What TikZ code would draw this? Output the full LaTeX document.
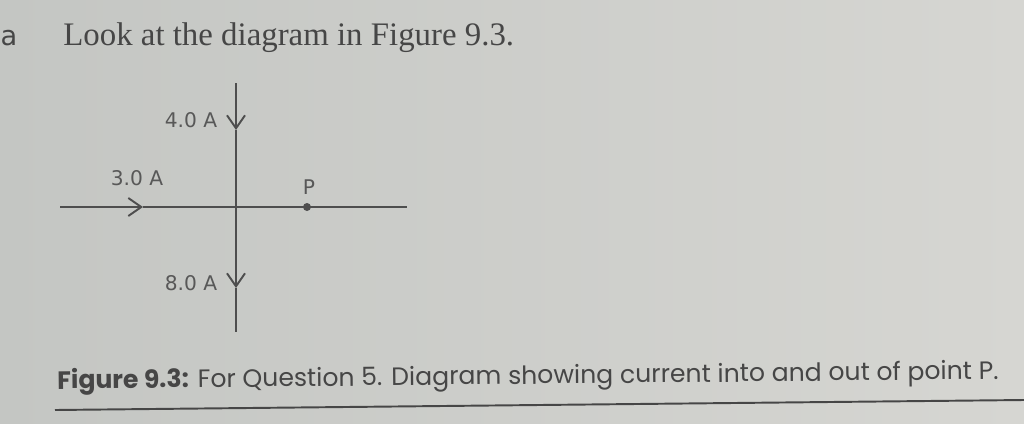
\documentclass[tikz,border=0pt]{standalone}
\usepackage{fontspec}
\setmainfont{Liberation Serif}
\setsansfont{DejaVu Sans}
\newfontfamily\capfont{Poppins}
\usetikzlibrary{arrows.meta}
\definecolor{paperl}{RGB}{196,198,195}
\definecolor{paperr}{RGB}{214,214,210}
\definecolor{ink}{RGB}{70,70,70}
\definecolor{wire}{RGB}{78,78,78}
\tikzset{
  wireline/.style={draw=wire, line width=1.1pt},
  barb/.style={-{Straight Barb[length=2.6mm,width=3.6mm,line width=1.1pt]}},
  amps/.style={text=ink!90, font=\sffamily\fontsize{11.5}{13}\selectfont, inner sep=0pt},
}

\begin{document}
\begin{tikzpicture}[x=0.02cm, y=-0.02cm]
  \shade[left color=paperl, right color=paperr] (0,0) rectangle (1024,423);
  \useasboundingbox (0,0) rectangle (1024,423);
  % question line
  \node[text=ink, font=\sffamily\fontsize{15.5}{18}\selectfont, anchor=base, inner sep=0pt] (qa) at (9,45) {a};
  \node[text=ink, font=\fontsize{18.7}{22}\selectfont, anchor=base west, inner sep=0pt] (qtext) at (63,45) {Look at the diagram in Figure 9.3.};
  % wires
  \coordinate (top) at (236,83);
  \coordinate (bot) at (236,332);
  \coordinate (lft) at (60,207);
  \coordinate (rgt) at (407,207);
  \coordinate (x) at (236,207);
  \coordinate (tip4) at (236,130);
  \coordinate (tip8) at (236,288);
  \coordinate (tip3) at (143,207);
  \node[circle, fill=wire, inner sep=0pt, minimum size=0.16cm] (P) at (307,207) {};
  \draw[wireline, barb] (top) -- (tip4);
  \draw[wireline, barb] (tip4) -- (tip8);
  \draw[wireline] (tip8) -- (bot);
  \draw[wireline, barb] (lft) -- (tip3);
  \draw[wireline] (tip3) -- (x) -- (P.center) -- (rgt);
  % labels
  \node[amps] (l4) at (191,120) {4.0 A};
  \node[amps] (l3) at (137,178) {3.0 A};
  \node[amps] (l8) at (191,283) {8.0 A};
  \node[amps] (lP) at (309,187) {P};
  % caption
  \node[text=ink, font=\capfont\fontsize{14.3}{18}\selectfont, anchor=base west, inner sep=0pt, rotate=0.6] (cap) at (57,389)
    {\textbf{Figure 9.3:} For Question 5. Diagram showing current into and out of point P.};
  \coordinate (ul1) at (55,410);
  \coordinate (ul2) at (1024,400);
  \draw[draw=ink, line width=1.1pt] (ul1) -- (ul2);
\end{tikzpicture}
\end{document}
